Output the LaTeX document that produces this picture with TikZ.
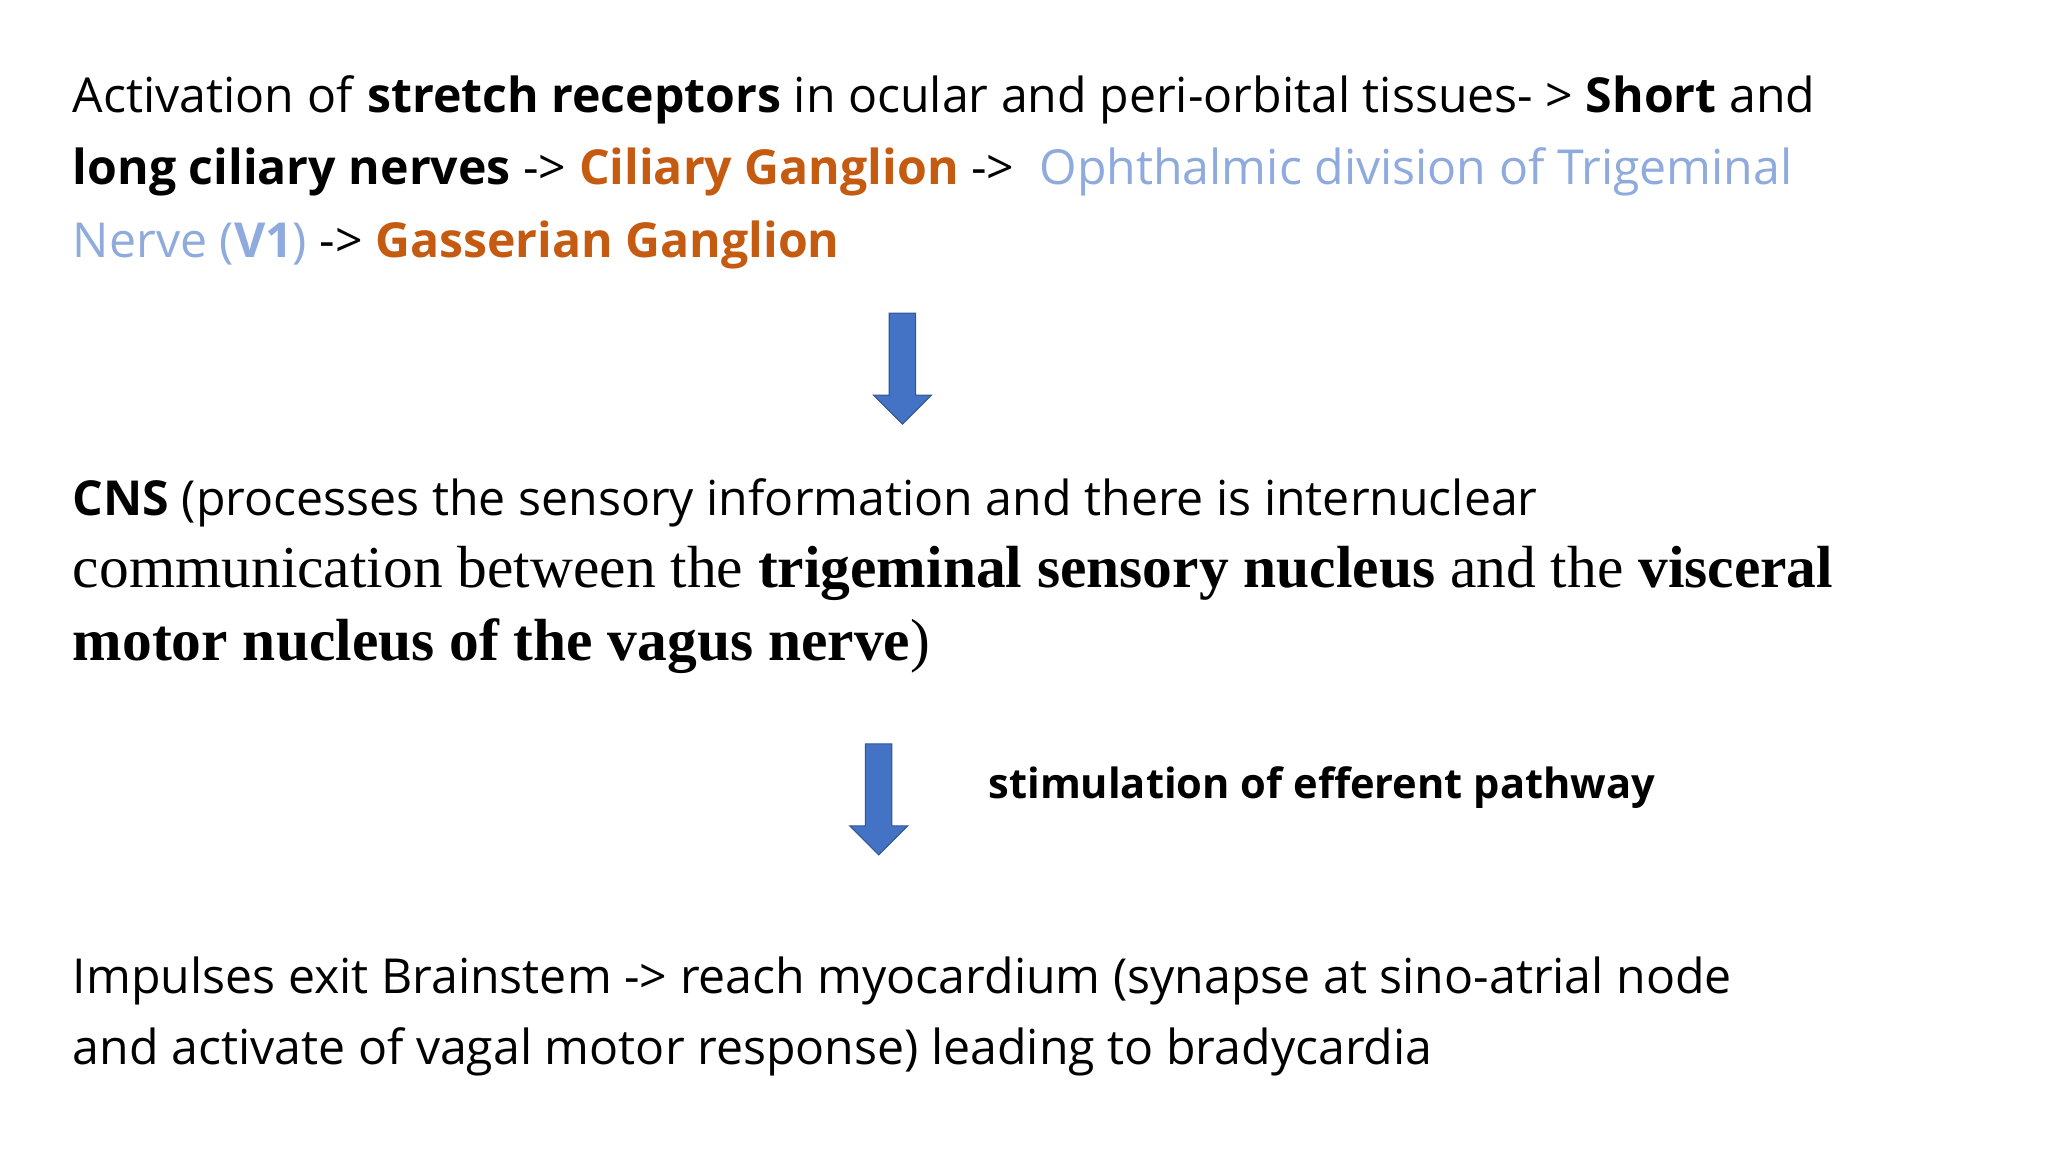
\documentclass[tikz,border=0pt]{standalone}
\usepackage{fontspec}
\setmainfont{Open Sans}
\newfontfamily\tnr{Liberation Serif}
\definecolor{org}{HTML}{C55A11}
\definecolor{lblue}{HTML}{8FAADC}
\definecolor{arr}{HTML}{4472C4}
\begin{document}
\begin{tikzpicture}[x=1pt,y=-1pt,
  txt/.style={anchor=base west,inner sep=0pt,font=\fontsize{36.5}{44}\selectfont},
  lbl/.style={anchor=base west,inner sep=0pt,font=\fontsize{31.5}{38}\selectfont\bfseries},
  bigarrow/.style={draw=arr!75!black,fill=arr,line width=0.8pt}]
\useasboundingbox (0,0) rectangle (1550,872);
\node[txt] (l1) at (55,85) {Activation of \textbf{stretch receptors} in ocular and peri-orbital tissues- > \textbf{Short} and};
\node[txt] (l2) at (55,140) {\textbf{long ciliary nerves} -> \textcolor{org}{\textbf{Ciliary Ganglion}} ->\ \ \textcolor{lblue}{Ophthalmic division of Trigeminal}};
\node[txt] (l3) at (55,195) {\textcolor{lblue}{Nerve (\textbf{V1})} -> \textcolor{org}{\textbf{Gasserian Ganglion}}};
\coordinate (a1) at (683,237);
\draw[bigarrow] (a1) ++(-10,0) -- ++(20,0) -- ++(0,62) -- ++(12,0) -- ++(-22,22) -- ++(-22,-22) -- ++(12,0) -- cycle;
\node[txt] (c1) at (55,390) {\textbf{CNS} (processes the sensory information and there is internuclear};
\node[txt,font=\tnr\fontsize{45}{54}\selectfont] (c2) at (55,445) {communication between the \textbf{trigeminal sensory nucleus} and the \textbf{visceral}};
\node[txt,font=\tnr\fontsize{45}{54}\selectfont] (c3) at (55,500) {\textbf{motor nucleus of the vagus nerve})};
\coordinate (a2) at (665,563);
\draw[bigarrow] (a2) ++(-10,0) -- ++(20,0) -- ++(0,62) -- ++(12,0) -- ++(-22,22) -- ++(-22,-22) -- ++(12,0) -- cycle;
\node[lbl] (s) at (748,604) {stimulation of efferent pathway};
\node[txt] (i1) at (55,752) {Impulses exit Brainstem -> reach myocardium (synapse at sino-atrial node};
\node[txt] (i2) at (55,806) {and activate of vagal motor response) leading to bradycardia};
\end{tikzpicture}
\end{document}
